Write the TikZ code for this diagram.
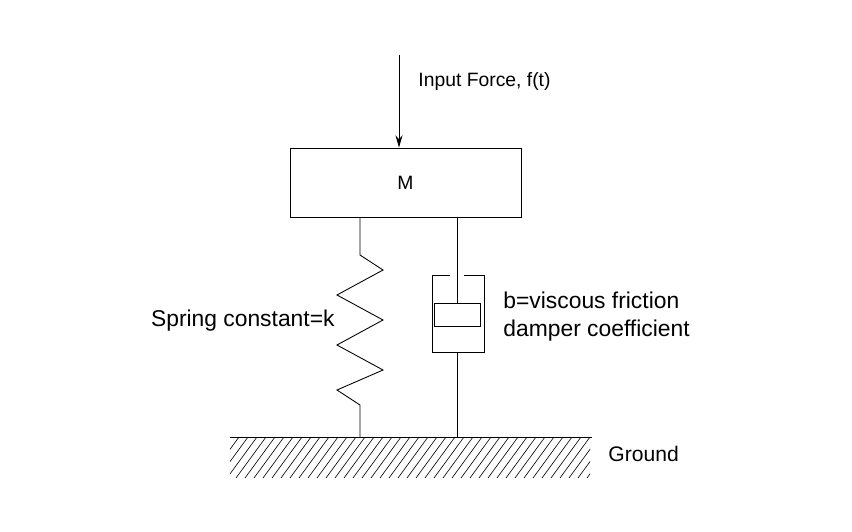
\documentclass[tikz,border=0pt]{standalone}
\usepackage{fontspec}
\setmainfont{Liberation Sans}
\usetikzlibrary{arrows.meta, positioning}

\begin{document}
\begin{tikzpicture}[x=0.02cm, y=-0.02cm, line width=0.5pt,
    lbl/.style={font=\fontsize{13}{16}\selectfont, inner sep=0pt},
    hatch/.style={line width=0.35pt}]
\useasboundingbox (0,0) rectangle (852,531);
% mass and input force
\node[draw, minimum width=231*0.02cm, minimum height=69*0.02cm, font=\fontsize{11}{14}\selectfont] (mass) at (405.5,182.5) {M};
\coordinate (ftop) at (399,55);
\draw[-{Stealth[length=7pt,width=4pt]}] (ftop) -- (ftop |- mass.north);
\node[anchor=west, font=\fontsize{11}{14}\selectfont, inner sep=0pt] (force) at (418,82) {Input Force, f(t)};
% ground
\coordinate (gl) at (230,437);
\coordinate (gr) at (592,437);
\draw (gl) -- (gr);
\begin{scope}
\clip (230,437) rectangle (590,478);
\foreach \i in {0,9,...,420} {
    \draw[hatch] (230+\i,437) -- (230+\i-30,478);
}
\end{scope}
\node[lbl, anchor=west, font=\fontsize{12}{14}\selectfont] (ground) at (608,454) {Ground};
% spring
\draw (360,217) -- (360,255) -- (383,270) -- (337,295) -- (383,320)
    -- (337,345) -- (383,370) -- (337,390) -- (360,405) -- (360,437);
\node[lbl, anchor=east] (spring) at (335,321) {Spring constant=k};
% damper
\draw (450,275) -- (432,275) -- (432,352) -- (484,352) -- (484,275) -- (464,275);
\node[draw, minimum width=46*0.02cm, minimum height=23*0.02cm, inner sep=0pt] (piston) at (457,314.5) {};
\draw (457,217) -- (piston.north);
\draw (457,352) -- (457,437);
\node[lbl, anchor=west, align=left] (damper) at (503,317) {b=viscous friction\\damper coefficient};
\end{tikzpicture}
\end{document}
